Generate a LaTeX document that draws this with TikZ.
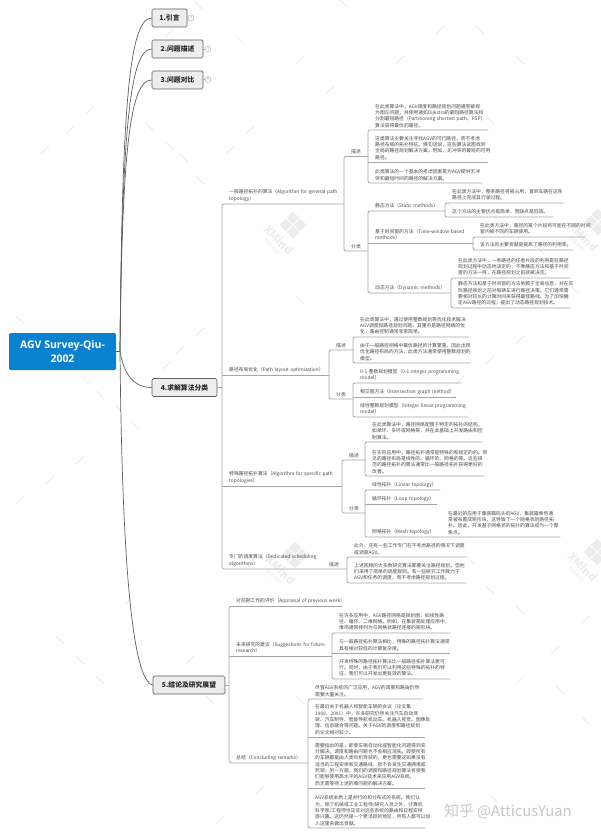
\documentclass[tikz,border=0pt]{standalone}
\usepackage{fontspec}
\setmainfont{Noto Sans CJK SC}
\newfontfamily\rootfont{Open Sans}
\usepackage{tikz}
\usetikzlibrary{shapes.geometric}
\definecolor{rootblue}{HTML}{0B82CF}
\definecolor{inkgrey}{HTML}{4A4A4A}
\definecolor{linegrey}{HTML}{A6A6A6}
\definecolor{darkline}{HTML}{5E5E5E}
\definecolor{markgrey}{HTML}{ECECEC}
\tikzset{
  rootbox/.style={fill=rootblue,rounded corners=1.5pt,text=white,minimum width=107pt,minimum height=37pt,
    inner sep=0pt,align=center,font=\rootfont\bfseries\fontsize{10.5}{13.5}\selectfont},
  mainbox/.style={draw=darkline,fill=black!7,rounded corners=1.5pt,line width=.7pt,minimum height=18pt,
    inner sep=0pt,text=black!85,font=\bfseries\fontsize{6.8}{8}\selectfont},
  fold/.style={draw=black!35,circle,line width=.4pt,minimum size=6pt,inner sep=0pt,text=black!45,font=\fontsize{3.6}{4}\selectfont},
  topic/.style={anchor=south west,inner xsep=7pt,inner ysep=2.4pt,align=left,text=inkgrey,font=\fontsize{4.8}{6.3}\selectfont,
    execute at begin node={\rightskip=-100pt plus 1fil\relax}},
  link/.style={draw=linegrey,line width=.75pt,rounded corners=2pt},
  rootlink/.style={draw=darkline,line width=.7pt},
  trace/.style={draw=black!7,line width=.8pt},
}
\begin{document}
\begin{tikzpicture}[x=1pt,y=-1pt]
\useasboundingbox[fill=white] (0,0) rectangle (600,837);
% faint marks behind the map
\foreach \px/\py in {198/5,343/3,150/127,169/145,184/158,200/180,20/320,85/380,100/395,392/150,420/175,450/205,490/120,
  540/250,575/290,120/410,135/425,360/620,400/640,300/300,470/560,490/590,520/610,560/690,585/720,300/700,340/760,60/640,80/660,100/680,495/800,240/40,480/30,520/60,210/700} {
  \draw[trace] (\px-4,\py-4) -- (\px+4,\py+4);
}
\foreach \px/\py in {169/33,200/332,180/350,167/365,300/60,330/90,400/60,440/30,45/150,70/130,90/110,520/340,490/360,460/380,
  250/130,230/150,20/500,50/480,80/460,130/600,190/660,170/680,520/680,555/650,585/620,260/790,220/820} {
  \draw[trace] (\px+4,\py-4) -- (\px-4,\py+4);
}
\foreach \i/\px/\py in {1/293/225,2/295/555,3/598/222,4/597/552} {
  \node[diamond,fill=markgrey,minimum size=27pt,inner sep=0pt] (xlogo\i) at (\px,\py) {};
  \draw[white,line width=1pt] (xlogo\i.north west) -- (xlogo\i.south east) (xlogo\i.north east) -- (xlogo\i.south west);
  \node[rotate=-45,text=markgrey,font=\bfseries\fontsize{11}{12}\selectfont] (xname\i) at (\px-14,\py+15) {XMind};
  \node[rotate=-45,text=markgrey,font=\fontsize{5}{6}\selectfont] (xsub\i) at (\px-21,\py+22) {思维导图};
}
\node[text=black!22,font=\fontsize{14.8}{18}\selectfont,inner sep=0pt] (zhihu) at (508,812) {知乎 @AtticusYuan};
% root and main topics
\node[rootbox] (root) at (62.5,351.5) {AGV Survey-Qiu-\\2002};
\node[mainbox,minimum width=35pt] (intro) at (169.5,18) {1.引言};
\node[mainbox,minimum width=51pt] (problem) at (177.5,49) {2.问题描述};
\node[mainbox,minimum width=51pt] (compare) at (177.5,80) {3.问题对比};
\node[mainbox,minimum width=65pt] (solve) at (184.5,387.5) {4.求解算法分类};
\node[mainbox,minimum width=72pt] (concl) at (189,685) {5.结论及研究展望};
\node[fold] (introfold) at (191,18) {7};
\node[fold] (problemfold) at (208,49) {3};
\node[fold] (comparefold) at (208,79.5) {9};
\coordinate (rootout) at (120,351.5);
\draw[rootlink] (root.east) -- (rootout);
\draw[rootlink] (rootout) .. controls (122,120) and (128,18) .. (intro.west);
\draw[rootlink] (rootout) .. controls (122,130) and (130,49) .. (problem.west);
\draw[rootlink] (rootout) .. controls (122,150) and (130,80) .. (compare.west);
\draw[rootlink] (rootout) .. controls (124,375) and (134,387.5) .. (solve.west);
\draw[rootlink] (rootout) .. controls (122,560) and (132,680) .. (concl.west);
\draw[link] (intro) -- (introfold);
\draw[link] (problem) -- (problemfold);
\draw[link] (compare) -- (comparefold);
% general path topology
\node[topic,text width=108pt] (general) at (222,204) {一般路径拓扑的算法（Algorithm for general path\\topology）};
\node[topic,text width=10pt] (gdesc) at (344,156.5) {描述};
\node[topic,text width=10pt] (gclass) at (344,251) {分类};
\node[topic,text width=106pt] (gd1) at (368,130) {在此类算法中，AGV调度和路径规划问题通常被视\\为图论问题，并使用诸如Dijkstra的最短路径算法和\\分割最短路径（Partitioning shortest path，PSP）\\算法获得最优的路径。};
\node[topic,text width=106pt] (gd2) at (368,162) {这类算法主要关注寻找AGV的可行路径，而不考虑\\路径布局的拓扑特征。换句话说，这些算法试图找到\\全局的路径规划解决方案，例如，无冲突的最短的可用\\路径。};
\node[topic,text width=100pt] (gd3) at (368,183) {此类算法的一个基本的考虑因素是为AGV提供无冲\\突和最短时间的路径的解决方案。};
\node[topic,text width=63pt] (gstatic) at (368,211) {静态方法（Static methods）};
\node[topic,text width=91pt] (gtime) at (368,243) {基于时间窗的方法（Time-window-based\\methods）};
\node[topic,text width=69pt] (gdyn) at (368,293) {动态方法（Dynamic methods）};
\node[topic,text width=104pt] (st1) at (445,203) {在此类方法中，整条路径将被占用，直到车辆在这条\\路径上完成其行驶过程。};
\node[topic,text width=94pt] (st2) at (445,217) {这个方法的主要优点是简单，而缺点是低效。};
\node[topic,text width=98pt] (ti1) at (473,237) {在此类方法中，路径的某个片段将可能在不同的时间\\窗内被不同的车辆使用。};
\node[topic,text width=86pt] (ti2) at (473,250) {该方法的主要贡献是提高了路径的利用率。};
\node[topic,text width=105pt] (dy1) at (451,278) {在此类方法中，一条路径的任意片段的利用是在路径\\规划过程中动态地决定的，不像静态方法和基于时间\\窗的方法一样，在路径规划之前就被决定。};
\node[topic,text width=105pt] (dy2) at (451,308) {静态方法和基于时间窗的方法依赖于全局信息，并在实\\际路径规划之前对每辆车进行路径决策。它们通常需\\要相对较长的计算时间来获得最佳路线。为了加快确\\定AGV路径的过程，提出了动态路径规划技术。};
% path layout optimization
\node[topic,text width=93pt] (pathopt) at (222,375) {路径布局优化（Path layout optimization）};
\node[topic,text width=10pt] (pdesc) at (329,350) {描述};
\node[topic,text width=10pt] (pclass) at (329,399) {分类};
\node[topic,text width=102pt] (pd1) at (353,337) {在此类算法中，通过使用整数规划等优化技术解决\\AGV调度和路径规划问题。其重点是路径网络的优\\化，路由控制通常非常简单。};
\node[topic,text width=103pt] (pd2) at (353,363) {由于一般路径网络中最优路径的计算繁重，因此出现\\优化路径布局的方法，此类方法通常使用整数规划的\\模型。};
\node[topic,text width=94pt] (pc1) at (353,383) {0-1 整数规划模型（0-1 integer programming\\model）};
\node[topic,text width=89pt] (pc2) at (353,397) {相交图方法（Intersection graph method）};
\node[topic,text width=101pt] (pc3) at (353,417) {线性整数规划模型（Integer linear programming\\model）};
% specific path topologies
\node[topic,text width=106pt] (special) at (222,486) {特殊路径拓扑算法（Algorithm for  specific path\\topologies）};
\node[topic,text width=9pt] (sdesc) at (342,460) {描述};
\node[topic,text width=9pt] (sclass) at (342,513) {分类};
\node[topic,text width=103pt] (sd1) at (365,442) {在此类算法中，路径网络配置于特定的拓扑的结构，\\如单环、多环或网格等，并在此基础上开发路由和控\\制算法。};
\node[topic,text width=105pt] (sd2) at (365,476) {在实际应用中，路径拓扑通常是特殊的和规定的的。常\\见的路径布局是线性的、循环的、网格的等。这些规\\范的路径拓扑的算法通常比一般路径拓扑获得更好的\\改善。};
\node[topic,text width=61pt] (slinear) at (365,490) {线性拓扑（Linear topology）};
\node[topic,text width=58pt] (sloop) at (365,504) {循环拓扑（Loop topology）};
\node[topic,text width=62pt] (smesh) at (365,537) {网格拓扑（Mesh topology）};
\node[topic,text width=105pt] (mesh1) at (441,537) {在最近的应用于集装箱码头的AGV，集装箱堆场通\\常被布置成矩形块，这导致了一个网格状的路径拓\\扑。因此，开发基于网格状的拓扑的算法成为一个聚\\焦点。};
% dedicated scheduling
\node[topic,text width=86pt] (dedicated) at (222,569) {专门的调度算法（Dedicated scheduling\\algorithms）};
\node[topic,text width=11pt] (ddesc) at (322,569) {描述};
\node[topic,text width=105pt] (dd1) at (347,557) {此外，还有一些工作专门在不考虑路径的情况下调度\\或调度AGV。};
\node[topic,text width=105pt] (dd2) at (347,583) {上述回顾的大多数研究算法都要关注路径规划。但他\\们采用了简单的调度规则。有一些研究工作致力于\\AGV和任务的调度，而不考虑路径规划过程。};
% conclusions
\node[topic,text width=99pt] (appraisal) at (229,606.5) {对前期工作的评价（Appraisal of previous work）};
\node[topic,text width=89pt] (future) at (229,656) {未来研究的建议（Suggestions for future\\research）};
\node[topic,text width=65pt] (remarks) at (229,763) {总结（Concluding remarks）};
\node[topic,text width=104pt] (fu1) at (332,633) {在许多应用中，AGV路径网络是规划图，如线性路\\径、循环、二维网格。例如，在集装箱处理应用中，\\堆场通常排列为与网格状路径连接的矩形块。};
\node[topic,text width=104pt] (fu2) at (332,653) {与一般路径拓扑算法相比，特殊的路径拓扑算法通常\\具有相对较低的计算复杂度。};
\node[topic,text width=104pt] (fu3) at (332,679) {开发特殊的路径拓扑算法比一般路径拓扑算法更可\\行。同时，由于我们可以利用这些特殊的拓扑的特\\征，我们可以开发出更有效的算法。};
\node[topic,text width=101pt] (re1) at (308,699) {尽管AGV系统的广泛应用，AGV的调度和路由仍然\\需要大量关注。};
\node[topic,text width=103pt] (re2) at (308,737) {在最近关于机器人和智能车辆的会议（论文集\\1999，2001）中，许多研究仍然关注汽车自动驾\\驶、汽车制导、智能导航机动车、机器人视觉、图像处\\理、信息融合等问题。关于AGV的调度和路径规划\\的论文相对较少。};
\node[topic,text width=103pt] (re3) at (308,788) {需要指出的是，即使车辆自动化或智能化问题得到充\\分解决，调度和路由问题也不会相应消失。即使所有\\的车辆都是由人类司机驾驶的，更也需要这如果没有\\适当的工程安排和交通路线，就不会发生交通拥堵或\\死锁；另一方面，我们的调度和路径规划算法将使我\\们能够使用高水平的AGV技术来应用AGV系统，\\而无需等待上述的难问题的解决方案。};
\node[topic,text width=103pt] (re4) at (308,828) {AGV系统本质上是并行的和分布式的系统。我们认\\为，除了机械或工业工程师/研究人员之外，计算机\\科学家/工程师也应该对这些系统的路由和日程安排\\感兴趣。这仍然是一个更活跃的地区，所有人都可以加\\入这里来做出贡献。};
% trunks of the two large branches
\draw[link] (solve.east) -- (solve.east -| general.south west);
\draw[link] (general.south east) -- (general.south west) -- (dedicated.south west) -- (dedicated.south east) -- (ddesc.south east);
\draw[link] (pathopt.south west) -- (pathopt.south east);
\draw[link] (special.south west) -- (special.south east);
\draw[link] (concl.east) -- (concl.east -| appraisal.south west);
\draw[link] (appraisal.south east) -- (appraisal.south west) -- (remarks.south west) -- (remarks.south east);
\draw[link] (future.south west) -- (future.south east);
% brackets
\draw[link] (gdesc.south east) -- (gdesc.south west) -- (gclass.south west) -- (gclass.south east);
\draw[link] (gd1.south east) -- (gd1.south west) -- (gd3.south west) -- (gd3.south east);
\draw[link] (gd2.south west) -- (gd2.south east);
\draw[link] (gstatic.south east) -- (gstatic.south west) -- (gdyn.south west) -- (gdyn.south east);
\draw[link] (gtime.south west) -- (gtime.south east);
\draw[link] (st1.south east) -- (st1.south west) -- (st2.south west) -- (st2.south east);
\draw[link] (ti1.south east) -- (ti1.south west) -- (ti2.south west) -- (ti2.south east);
\draw[link] (dy1.south east) -- (dy1.south west) -- (dy2.south west) -- (dy2.south east);
\draw[link] (pdesc.south east) -- (pdesc.south west) -- (pclass.south west) -- (pclass.south east);
\draw[link] (pd1.south east) -- (pd1.south west) -- (pd2.south west) -- (pd2.south east);
\draw[link] (pc1.south east) -- (pc1.south west) -- (pc3.south west) -- (pc3.south east);
\draw[link] (pc2.south west) -- (pc2.south east);
\draw[link] (sdesc.south east) -- (sdesc.south west) -- (sclass.south west) -- (sclass.south east);
\draw[link] (sd1.south east) -- (sd1.south west) -- (sd2.south west) -- (sd2.south east);
\draw[link] (slinear.south east) -- (slinear.south west) -- (smesh.south west) -- (smesh.south east) -- (mesh1.south east);
\draw[link] (sloop.south west) -- (sloop.south east);
\draw[link] (dd1.south east) -- (dd1.south west) -- (dd2.south west) -- (dd2.south east);
\draw[link] (fu1.south east) -- (fu1.south west) -- (fu3.south west) -- (fu3.south east);
\draw[link] (fu2.south west) -- (fu2.south east);
\draw[link] (re1.south east) -- (re1.south west) -- (re4.south west) -- (re4.south east);
\draw[link] (re2.south west) -- (re2.south east);
\draw[link] (re3.south west) -- (re3.south east);
\end{tikzpicture}
\end{document}
